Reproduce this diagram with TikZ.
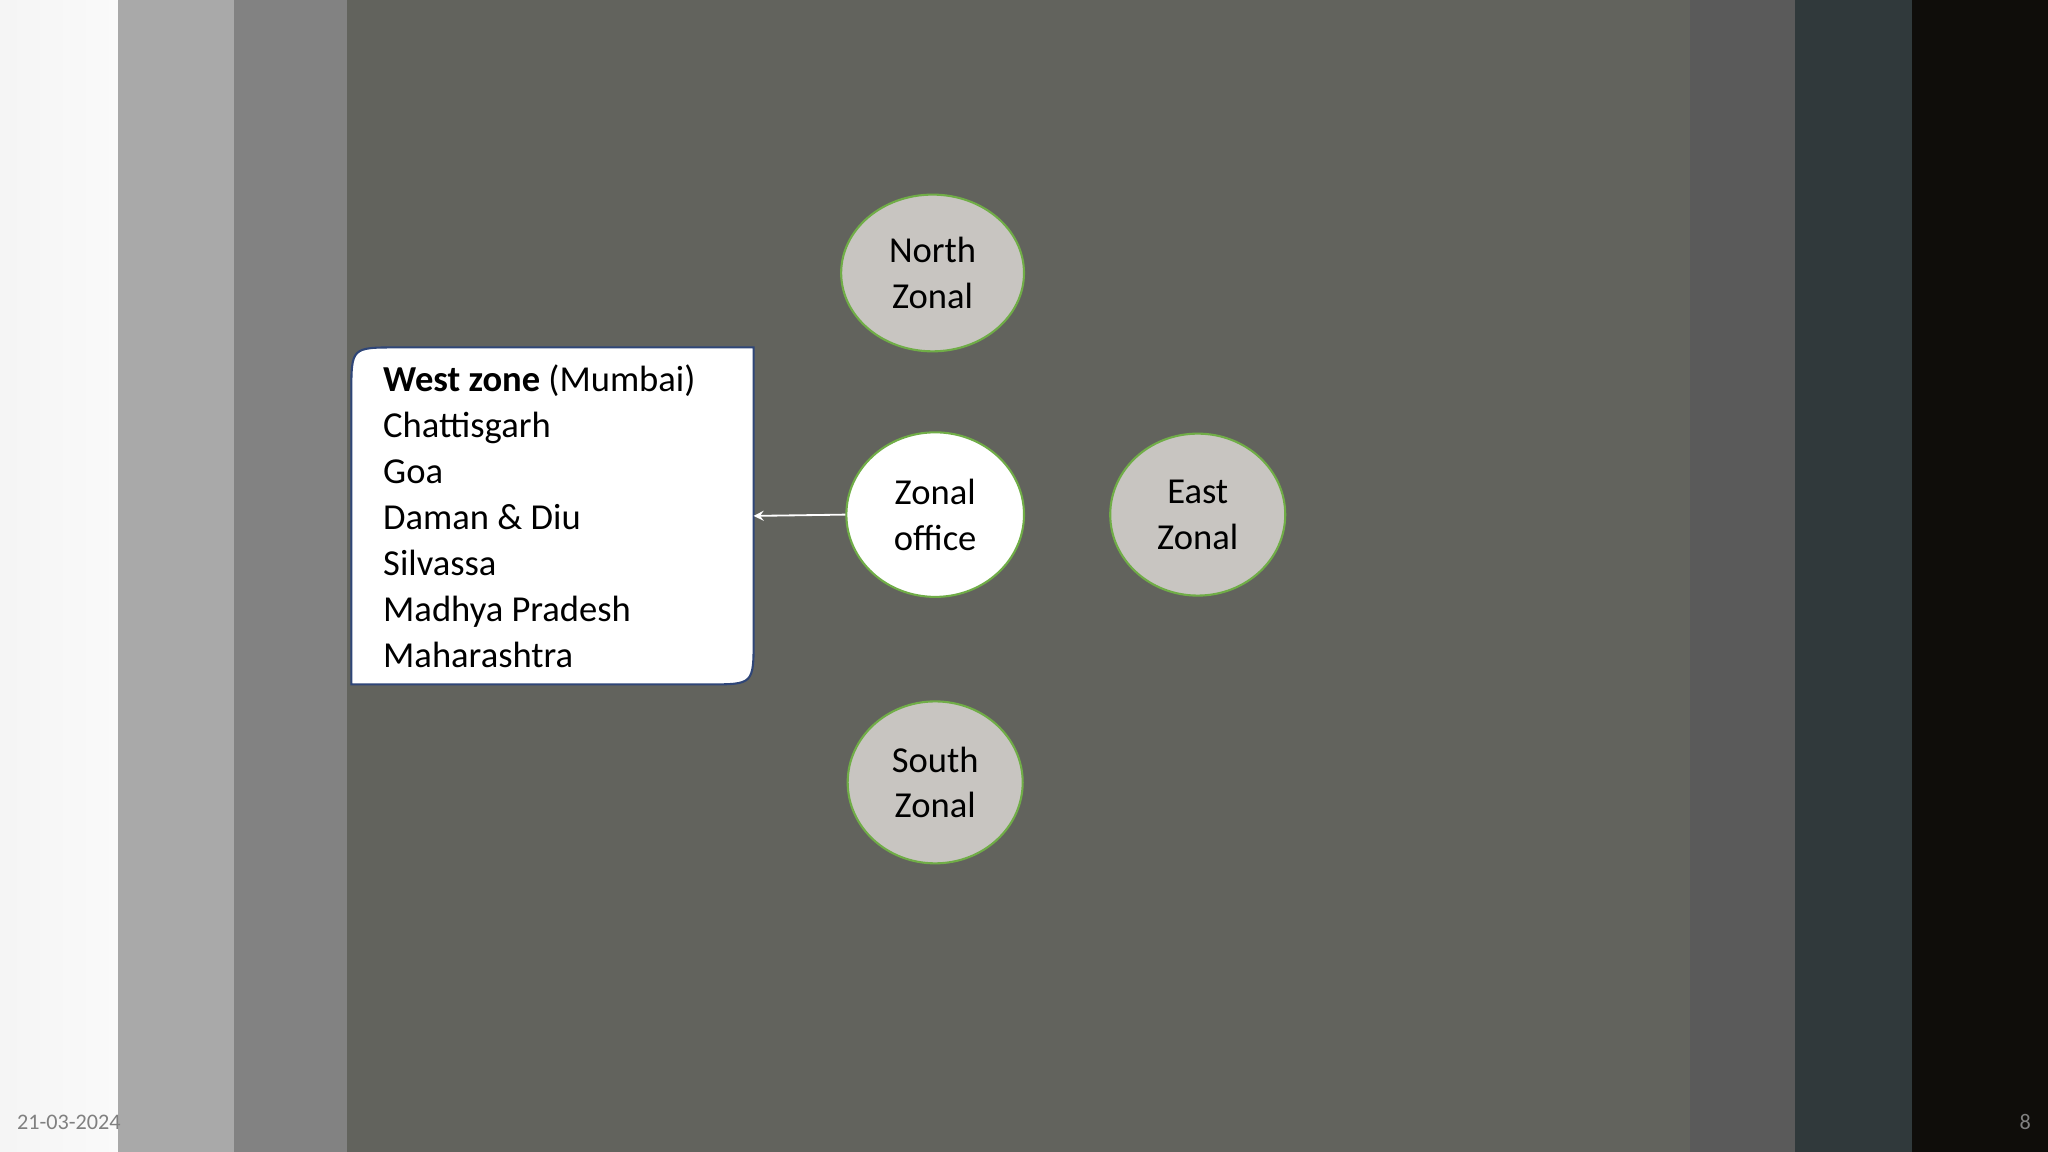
\documentclass[tikz,border=0pt]{standalone}
\usepackage{fontspec}
\setmainfont{Carlito}
\usetikzlibrary{shapes.geometric}
\definecolor{zfill}{RGB}{200,197,193}
\definecolor{zgreen}{RGB}{112,173,71}
\definecolor{bg1}{RGB}{169,169,169}
\definecolor{bg2}{RGB}{130,130,130}
\definecolor{bg3}{RGB}{98,99,93}
\definecolor{bg4}{RGB}{90,90,90}
\definecolor{bg5}{RGB}{48,57,59}
\definecolor{bg6}{RGB}{15,13,10}
\definecolor{navy}{RGB}{47,70,120}
\begin{document}
\begin{tikzpicture}[x=0.5pt,y=-0.5pt,
  zone/.style={ellipse,draw=zgreen,line width=0.8pt,fill=zfill,align=center,font=\fontsize{14}{17.5}\selectfont,inner sep=0pt},
]
\useasboundingbox (0,0) rectangle (1568,882);
\shade[left color=white!92!gray,right color=white!96!gray] (0,0) rectangle (90,882);
\fill[bg1] (90,0) rectangle (179,882);
\fill[bg2] (179,0) rectangle (266,882);
\fill[bg3] (266,0) rectangle (1294,882);
\fill[bg4] (1294,0) rectangle (1374,882);
\fill[bg5] (1374,0) rectangle (1464,882);
\fill[bg6] (1464,0) rectangle (1568,882);
\node[zone,minimum width=70pt,minimum height=60pt] (north) at (714,209) {North\\Zonal};
\node[zone,fill=white,minimum width=68pt,minimum height=63pt] (office) at (716,394) {Zonal\\office};
\node[zone,minimum width=67pt,minimum height=62pt] (east) at (917,394) {East\\Zonal};
\node[zone,minimum width=67pt,minimum height=62pt] (south) at (716,599) {South\\Zonal};
\draw[fill=white,draw=navy,line width=0.8pt]
  (269,524) -- (269,301) .. controls (269,266) .. (304,266) -- (577,266) -- (577,489) .. controls (577,524) .. (542,524) -- cycle;
\coordinate (boxr) at (577,395);
\node[anchor=north west,align=left,font=\fontsize{14}{17.6}\selectfont,inner sep=0pt] (list) at (293,279)
 {\textbf{West zone} (Mumbai)\\Chattisgarh\\Goa\\Daman \& Diu\\Silvassa\\Madhya Pradesh\\Maharashtra};
\draw[white,line width=0.7pt,-stealth] (office.west) -- (boxr);
\node[anchor=west,text=gray,font=\fontsize{8.5}{9}\selectfont] (date) at (6,859) {21-03-2024};
\node[anchor=east,text=gray,font=\fontsize{8.5}{9}\selectfont] (pg) at (1562,859) {8};
\end{tikzpicture}
\end{document}
